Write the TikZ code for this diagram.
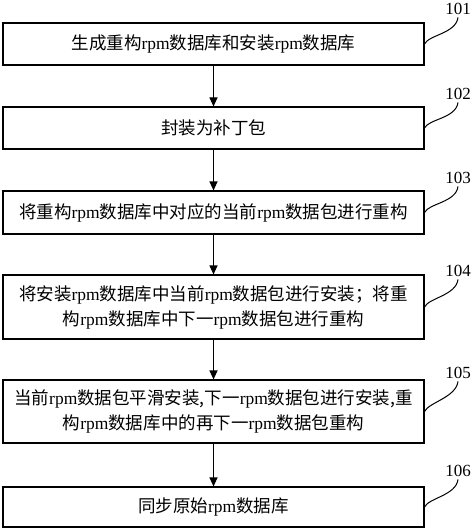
\documentclass[tikz,border=0pt]{standalone}
\usepackage{fontspec}
\setmainfont{Liberation Serif}
\newfontfamily\cjk{Noto Sans CJK SC}
\usetikzlibrary{arrows.meta}
\newcommand{\rpm}{{\rmfamily rpm}}

\begin{document}
\begin{tikzpicture}[x=1pt,y=-1pt,font=\fontsize{17.5}{25}\selectfont\cjk,
  stepbox/.style={draw,line width=1.1pt,minimum width=421pt,inner sep=0pt,align=center},
  tag/.style={font=\fontsize{17}{20}\selectfont\rmfamily,inner sep=2.5pt}]
\useasboundingbox (0,0) rectangle (474,532);
\node[stepbox,minimum height=42pt] (s1) at (213.5,44) {生成重构\rpm 数据库和安装\rpm 数据库};
\node[stepbox,minimum height=42pt] (s2) at (213.5,128) {封装为补丁包};
\node[stepbox,minimum height=43pt] (s3) at (213.5,212.5) {将重构\rpm 数据库中对应的当前\rpm 数据包进行重构};
\node[stepbox,minimum height=64pt] (s4) at (213.5,307) {将安装\rpm 数据库中当前\rpm 数据包进行安装；将重\\构\rpm 数据库中下一\rpm 数据包进行重构};
\node[stepbox,minimum height=63pt] (s5) at (213.5,411.5) {当前\rpm 数据包平滑安装,下一\rpm 数据包进行安装,重\\构\rpm 数据库中的再下一\rpm 数据包重构};
\node[stepbox,minimum height=40pt] (s6) at (213.5,507) {同步原始\rpm 数据库};
\foreach \a/\b in {1/2,2/3,3/4,4/5,5/6}
  \draw[-{Triangle[length=9pt,width=8pt]},line width=1.1pt] (s\a) -- (s\b);
\foreach \i/\y in {1/9,2/94,3/178,4/271,5/373,6/471}{
  \node[tag] (l\i) at (458,\y) {10\i};
  \draw[line width=1pt] (s\i.east) .. controls +(4,-9) and +(-2,16) .. (l\i.south);
}
\end{tikzpicture}
\end{document}
